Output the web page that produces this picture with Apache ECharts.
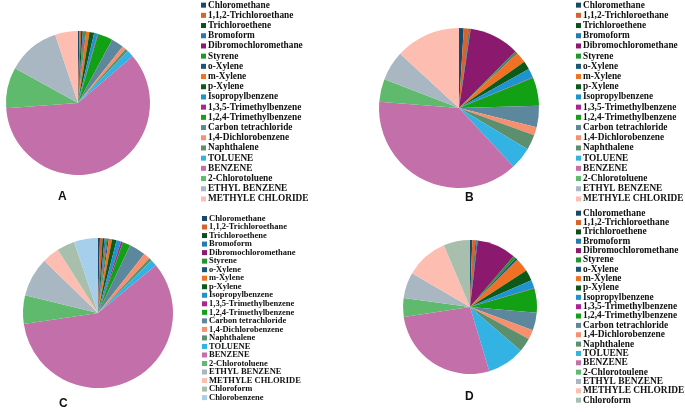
<!DOCTYPE html>
<html>
<head>
<meta charset="utf-8">
<script src="https://cdn.jsdelivr.net/npm/echarts@6/dist/echarts.min.js"></script>
<style>
    html, body { margin: 0; padding: 0; background: #fff; }
    #chart { width: 685px; height: 413px; }
</style>
</head>
<body>
<div id="chart"></div>
<script>
// compound names, shared by all four samples
var names = ['Chloromethane', '1,1,2-Trichloroethane', 'Trichloroethene', 'Bromoform',
    'Dibromochloromethane', 'Styrene', 'o-Xylene', 'm-Xylene', 'p-Xylene', 'Isopropylbenzene',
    '1,3,5-Trimethylbenzene', '1,2,4-Trimethylbenzene', 'Carbon tetrachloride', '1,4-Dichlorobenzene',
    'Naphthalene', 'TOLUENE', 'BENZENE', '2-Chlorotoluene', 'ETHYL BENZENE', 'METHYLE CHLORIDE'];
var namesC = names.concat(['Chloroform', 'Chlorobenzene']);
var namesD = names.slice(0, 17).concat(['2-Chlorotoulene', 'ETHYL BENZENE', 'METHYLE CHLORIDE', 'Chloroform']);

var colors = ['#17496b', '#d9612b', '#0f4d1a', '#2279b3', '#8b1a6e', '#23952d', '#1a5676', '#f07124',
    '#0b5a17', '#1d93cf', '#ad2392', '#12a015', '#5d879c', '#f6906f', '#5b8f6e', '#33b2e4',
    '#c26faa', '#5fba6d', '#a9b7c3', '#fdbdb1', '#a8bfae', '#a6cfeb'];

// values (degrees of the circle)
var valuesA = [1.2, 1.3, 1.3, 0.6, 0.6, 0.8, 0.6, 2.8, 3.8, 2.8, 0.5, 12, 10, 3, 2.5, 5.5, 216, 33, 42.6, 18.4];
var valuesB = [3.4, 4, 0.5, 0.5, 36.4, 1, 0.8, 8, 6, 6.5, 0.5, 20.5, 15.5, 6, 11, 16, 137, 16.5, 21.5, 47.2];
var valuesC = [1.5, 2, 1.5, 1, 0.5, 0.8, 1, 2.5, 3.5, 3.5, 1.5, 6, 12.7, 5, 2.3, 5, 210, 22, 30.5, 13.2, 13.8, 18.5];
var valuesD = [2, 3, 0.8, 0.8, 34, 2.5, 2, 12, 9.3, 7, 0.5, 21, 15.4, 8.3, 12.2, 32.4, 98.2, 16.2, 22.5, 36.8, 23];

function colorOf(n) {
    var i = namesC.indexOf(n);
    if (n === '2-Chlorotoulene') i = 17;
    return colors[i];
}

function pieData(list, vals) {
    var out = [];
    for (var i = 0; i < list.length; i++) {
        out.push({ name: list[i], value: vals[i], itemStyle: { color: colorOf(list[i]) } });
    }
    return out;
}

function pie(name, list, vals, cx, cy, r) {
    return {
        type: 'pie',
        name: name,
        center: [cx, cy],
        radius: r,
        startAngle: 90,
        clockwise: true,
        label: { show: false },
        labelLine: { show: false },
        itemStyle: { borderWidth: 0 },
        emphasis: { disabled: true },
        data: pieData(list, vals)
    };
}

function legend(list, x, y, gap, size) {
    return {
        orient: 'vertical',
        left: x,
        top: y,
        padding: 0,
        itemWidth: 5,
        itemHeight: 5,
        itemGap: gap,
        icon: 'rect',
        selectedMode: false,
        textStyle: {
            fontFamily: 'Liberation Serif',
            fontWeight: 'bold',
            fontSize: size,
            lineHeight: size,
            color: '#111',
            padding: [0, 0, 0, -3]
        },
        data: list
    };
}

function letter(t, x, y) {
    return {
        text: t,
        left: x,
        top: y,
        padding: 0,
        textStyle: { fontFamily: 'Liberation Sans', fontWeight: 'bold', fontSize: 12, color: '#111' }
    };
}

var myChart = echarts.init(document.getElementById('chart'));
var option = {
    animation: false,
    title: [letter('A', 58, 191), letter('B', 465, 192), letter('C', 59, 398), letter('D', 465, 391)],
    legend: [
        legend(names, 201, 0.5, 0.9, 9.3),
        legend(names, 576, 0.5, 0.9, 9.3),
        legend(namesC, 202, 214, -0.47, 8.5),
        legend(namesD, 576, 208.5, -0.05, 9.4)
    ],
    series: [
        pie('A', names, valuesA, 78, 103, 72),
        pie('B', names, valuesB, 459, 108, 80),
        pie('C', namesC, valuesC, 98, 313, 75),
        pie('D', namesD, valuesD, 470, 307, 67)
    ]
};
myChart.setOption(option);
</script>
</body>
</html>
